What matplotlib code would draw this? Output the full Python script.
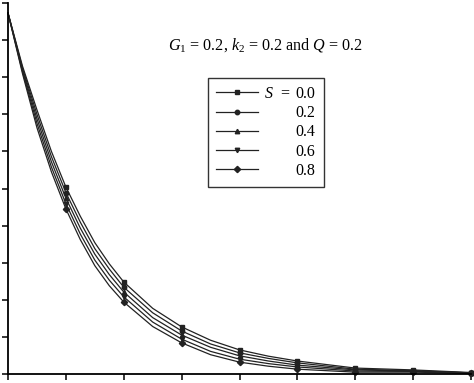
import matplotlib
matplotlib.use("Agg")
import matplotlib.pyplot as plt

plt.rcParams['font.family'] = 'Liberation Serif'
plt.rcParams['mathtext.fontset'] = 'custom'
plt.rcParams['mathtext.rm'] = 'Liberation Serif'
plt.rcParams['mathtext.it'] = 'Liberation Serif:italic'

# values (x in tick units, y in axis units)
x = [0, 0.25, 0.5, 0.75, 1, 1.25, 1.5, 1.75, 2, 2.5, 3, 3.5, 4, 4.5, 5, 6, 7, 8]
s_values = ['0.0', '0.2', '0.4', '0.6', '0.8']
curve_s00 = [0.973, 0.830, 0.712, 0.600, 0.504, 0.425, 0.354, 0.297, 0.248, 0.177, 0.127,
             0.091, 0.065, 0.048, 0.035, 0.016, 0.011, 0.004]
curve_s02 = [0.973, 0.825, 0.700, 0.586, 0.489, 0.409, 0.338, 0.283, 0.234, 0.165, 0.116,
             0.081, 0.057, 0.042, 0.030, 0.013, 0.009, 0.003]
curve_s04 = [0.973, 0.820, 0.688, 0.572, 0.474, 0.393, 0.323, 0.268, 0.221, 0.152, 0.105,
             0.072, 0.049, 0.035, 0.024, 0.011, 0.008, 0.003]
curve_s06 = [0.973, 0.815, 0.676, 0.558, 0.459, 0.377, 0.307, 0.253, 0.208, 0.140, 0.094,
             0.061, 0.040, 0.028, 0.019, 0.008, 0.007, 0.002]
curve_s08 = [0.973, 0.810, 0.664, 0.545, 0.445, 0.362, 0.292, 0.238, 0.194, 0.128, 0.084,
             0.052, 0.032, 0.021, 0.013, 0.005, 0.005, 0.002]
curves = [curve_s00, curve_s02, curve_s04, curve_s06, curve_s08]
markers = ['s', 'o', '^', 'v', 'D']
marker_idx = [4, 8, 10, 12, 14, 15, 16, 17]

fig = plt.figure(figsize=(4.74, 3.83), dpi=100)
ax = fig.add_axes([8 / 474, 9 / 383, 463 / 474, 371 / 383])

handles = []
for y, m in zip(curves, markers):
    ln, = ax.plot(x, y, color='#222222', lw=0.9, marker=m, markersize=3.2,
                  markevery=marker_idx, clip_on=False)
    handles.append(ln)

ax.set_xlim(0, 8)
ax.set_ylim(0, 1.0)
ax.set_xticks(range(9))
ax.set_yticks([i / 10 for i in range(11)])
ax.set_xticklabels([])
ax.set_yticklabels([])
ax.tick_params(direction='out', length=4, width=1.1, color='black')
for side in ['top', 'right']:
    ax.spines[side].set_visible(False)
for side in ['left', 'bottom']:
    ax.spines[side].set_linewidth(1.3)

fig.text(266 / 474, 1 - 45 / 383,
         r'$G_{\mathrm{1}}$ = 0.2, $k_{\mathrm{2}}$ = 0.2 and $Q$ = 0.2',
         ha='center', va='center', fontsize=11.6)

leg = fig.legend(handles, s_values, loc='upper left',
                 bbox_to_anchor=(208 / 474, 1 - 78 / 383), borderaxespad=0,
                 fontsize=11.5, handlelength=2.6, handletextpad=2.4,
                 labelspacing=0.2, fancybox=False, edgecolor='#333333',
                 framealpha=1, borderpad=0.5)
leg.get_frame().set_linewidth(1.0)

fig.canvas.draw()
bb = leg.get_texts()[0].get_window_extent()
fig.text((bb.x0 - 6) / 474, (bb.y0 + bb.y1) / 2 / 383, r'$S$  =',
         ha='right', va='center', fontsize=11.5, zorder=10)

fig.savefig('out.png', dpi=100)
